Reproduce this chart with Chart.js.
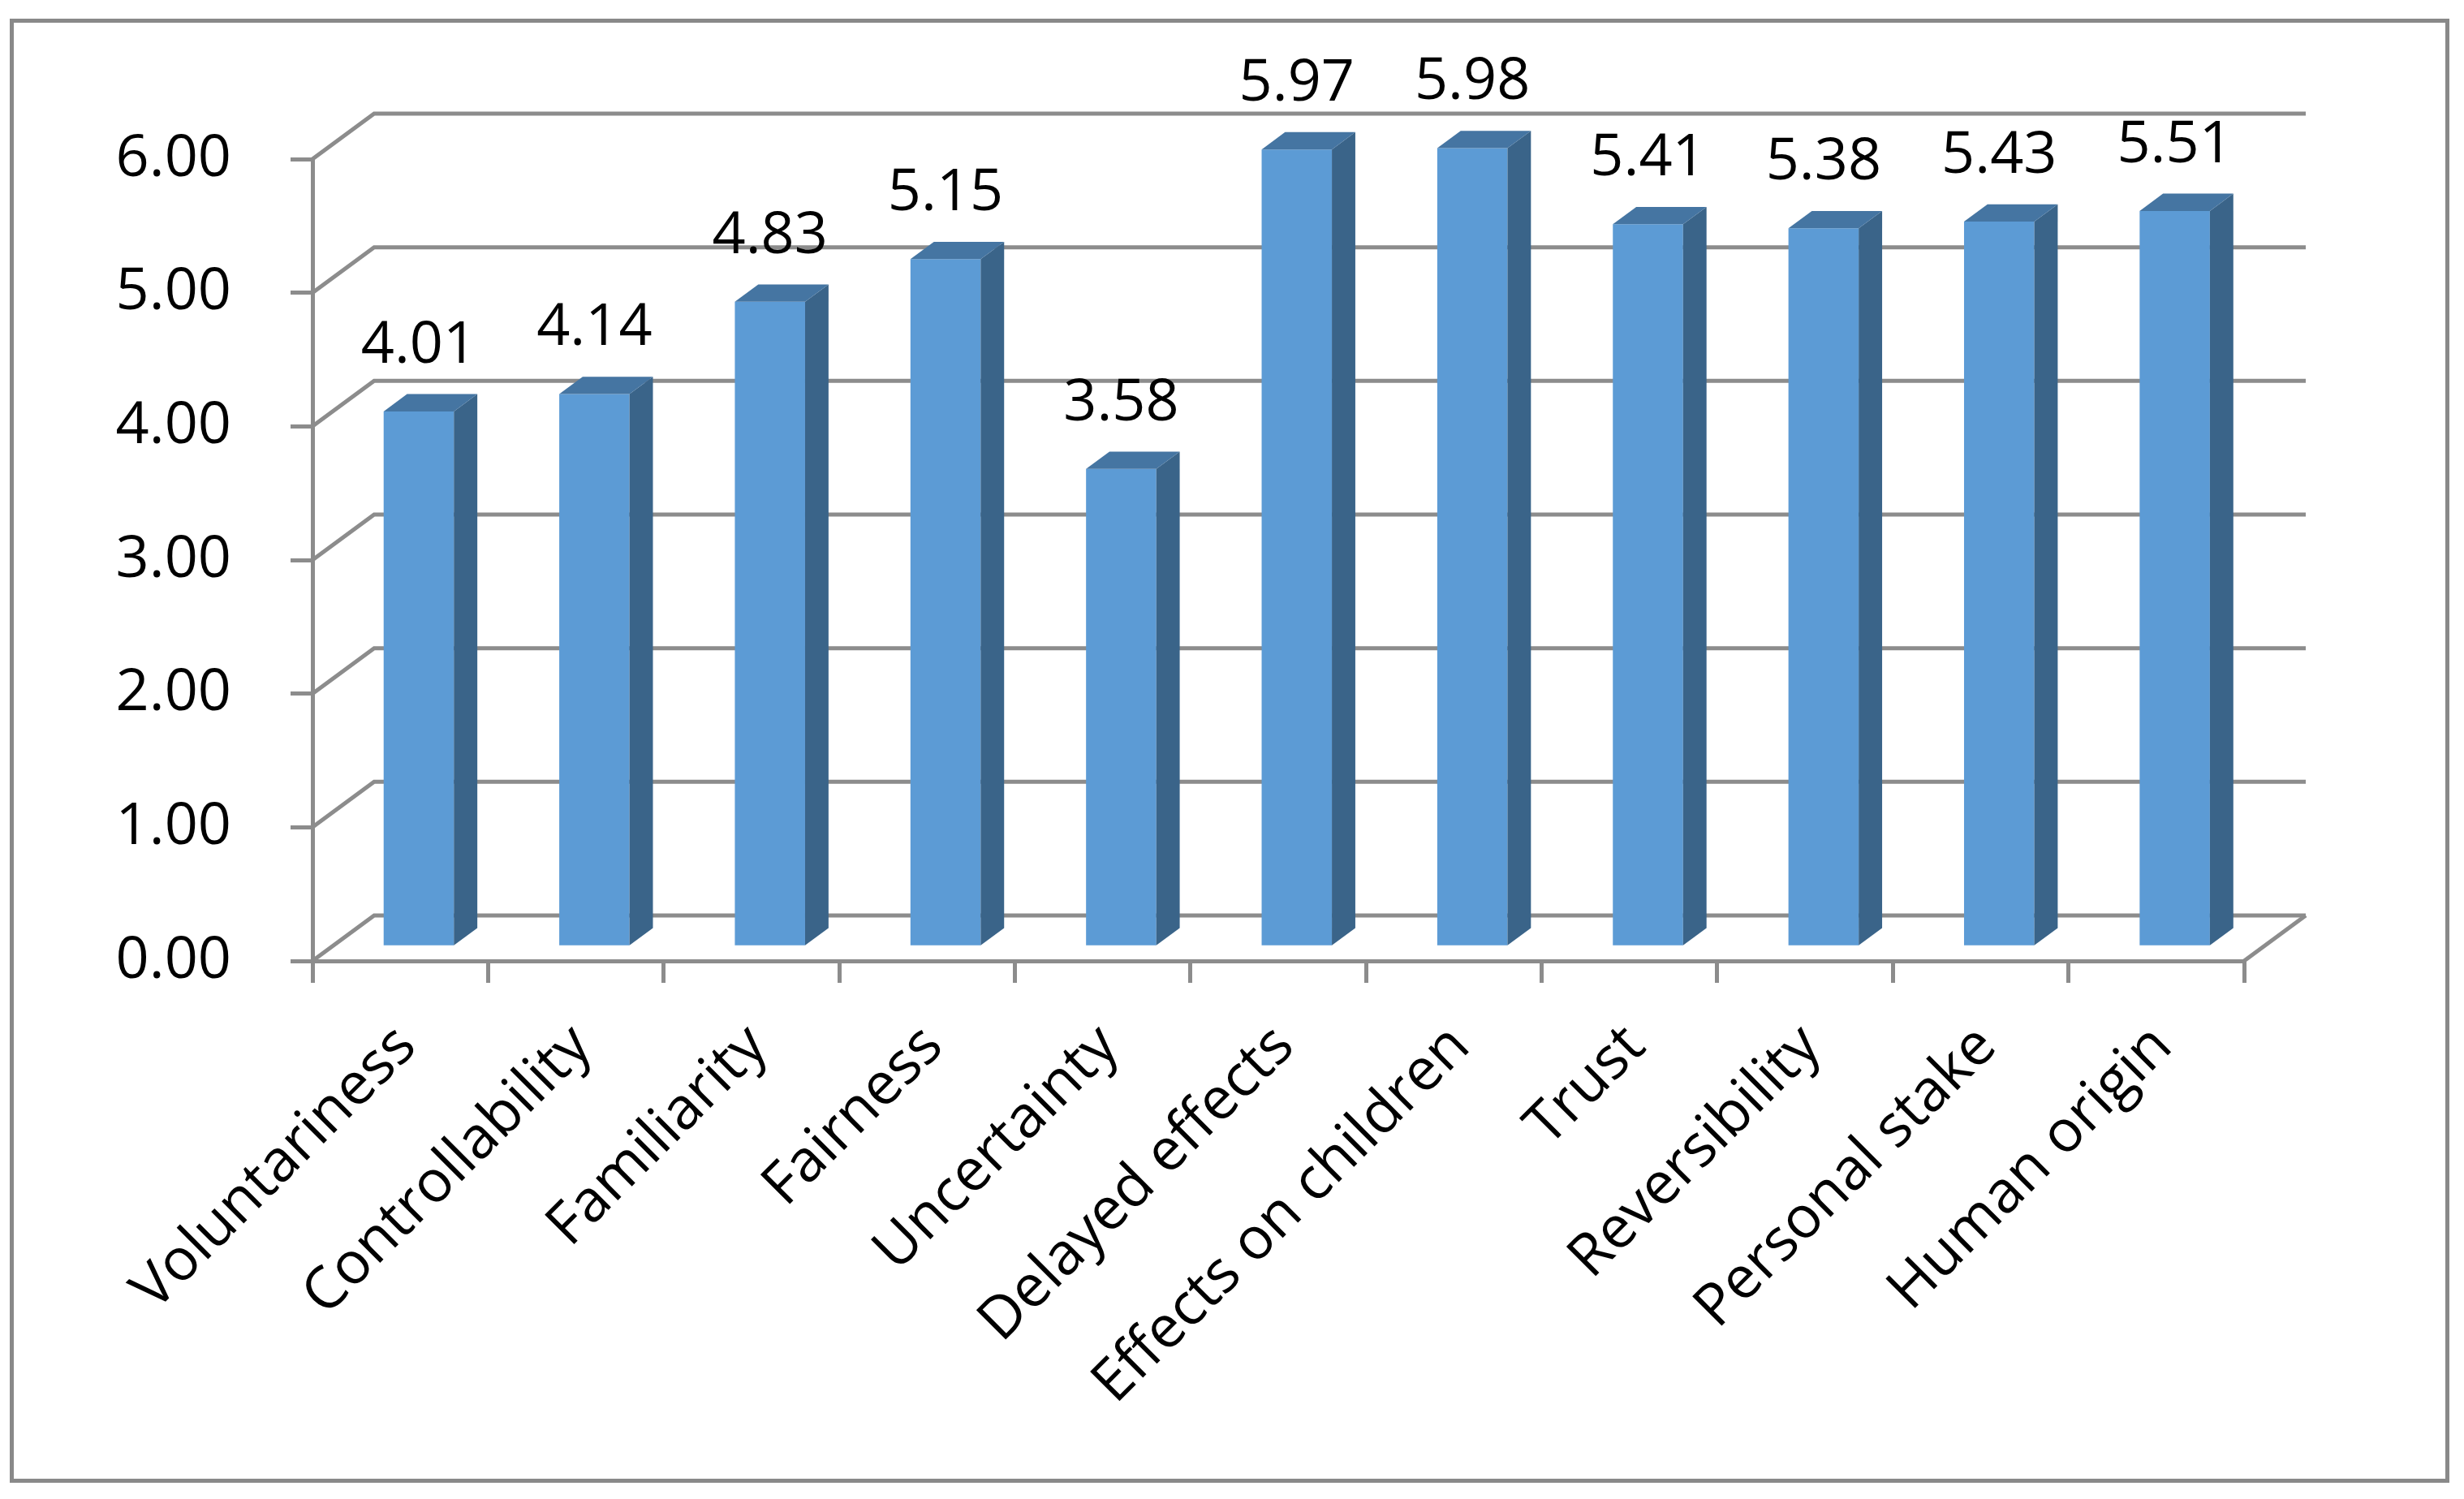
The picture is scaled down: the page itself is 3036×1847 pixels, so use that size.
<!DOCTYPE html>
<html>
<head>
<meta charset="utf-8">
<script src="https://cdn.jsdelivr.net/npm/chart.js@4.4.1/dist/chart.umd.min.js"></script>
<style>
  html, body { margin: 0; padding: 0; background: #fff; }
  #wrap { width: 3036px; height: 1847px; }
</style>
</head>
<body>
<div id="wrap"><canvas id="chart" width="3036" height="1847"></canvas></div>
<script>
const categories = ['Voluntariness', 'Controllability', 'Familiarity', 'Fairness', 'Uncertainty',
    'Delayed effects', 'Effects on children', 'Trust', 'Reversibility', 'Personal stake', 'Human origin'];
const meanScores = [4.01, 4.14, 4.83, 5.15, 3.58, 5.97, 5.98, 5.41, 5.38, 5.43, 5.51];
const yTicks = [0, 1, 2, 3, 4, 5, 6];

const gray = '#8c8c8c';
const fontFamily = "'Open Sans', sans-serif";
const wall = { x: 76, y: -56 };      // offset of the back wall
const barFront = 0.3;                // where the bar's front face sits in the depth
const barDepth = 0.38;               // how deep the bar is

const frame = {
    id: 'frame',
    beforeDraw(chart) {
        const ctx = chart.ctx;
        ctx.save();
        ctx.fillStyle = '#fff';
        ctx.fillRect(0, 0, chart.width, chart.height);
        ctx.strokeStyle = '#898989';
        ctx.lineWidth = 5;
        ctx.strokeRect(14.5, 25.5, 3001, 1799);
        ctx.restore();
    }
};

const box3d = {
    id: 'box3d',
    beforeDatasetsDraw(chart) {
        const ctx = chart.ctx;
        const y = chart.scales.y;
        const area = chart.chartArea;

        ctx.save();
        ctx.strokeStyle = gray;
        ctx.lineWidth = 5;
        ctx.lineJoin = 'miter';
        yTicks.forEach(v => {
            const py = y.getPixelForValue(v);
            ctx.beginPath();
            ctx.moveTo(area.left, py);
            ctx.lineTo(area.left + wall.x, py + wall.y);
            ctx.lineTo(area.right + wall.x, py + wall.y);
            ctx.stroke();
        });
        // right edge of the floor
        ctx.beginPath();
        ctx.moveTo(area.right, area.bottom);
        ctx.lineTo(area.right + wall.x, area.bottom + wall.y);
        ctx.stroke();
        ctx.restore();

        // push the bars back a little into the box
        ctx.save();
        ctx.translate(wall.x * barFront, wall.y * barFront);
    },
    afterDatasetsDraw(chart) {
        const ctx = chart.ctx;
        const dx = wall.x * barDepth;
        const dy = wall.y * barDepth;
        const meta = chart.getDatasetMeta(0);

        meta.data.forEach((bar, i) => {
            const p = bar.getProps(['x', 'y', 'base', 'width'], true);
            const w = p.width / 2;

            ctx.fillStyle = '#3a6489';
            ctx.beginPath();
            ctx.moveTo(p.x + w, p.y);
            ctx.lineTo(p.x + w + dx, p.y + dy);
            ctx.lineTo(p.x + w + dx, p.base + dy);
            ctx.lineTo(p.x + w, p.base);
            ctx.closePath();
            ctx.fill();

            ctx.fillStyle = '#4575a2';
            ctx.beginPath();
            ctx.moveTo(p.x - w, p.y);
            ctx.lineTo(p.x - w + dx, p.y + dy);
            ctx.lineTo(p.x + w + dx, p.y + dy);
            ctx.lineTo(p.x + w, p.y);
            ctx.closePath();
            ctx.fill();

            ctx.fillStyle = '#000';
            ctx.font = '72px ' + fontFamily;
            ctx.textAlign = 'center';
            ctx.textBaseline = 'alphabetic';
            ctx.fillText(meanScores[i].toFixed(2), p.x, p.y - 60);
        });
        ctx.restore();
    }
};

new Chart(document.getElementById('chart'), {
    type: 'bar',
    data: {
        labels: categories,
        datasets: [{
            data: meanScores,
            backgroundColor: '#5c9bd5',
            borderWidth: 0,
            barPercentage: 0.4,
            categoryPercentage: 1,
            clip: false
        }]
    },
    options: {
        responsive: false,
        devicePixelRatio: 1,
        animation: false,
        layout: { padding: { top: 196, right: 271, left: 0, bottom: 0 } },
        plugins: {
            legend: { display: false },
            tooltip: { enabled: false }
        },
        scales: {
            x: {
                offset: true,
                grid: { offset: true, drawOnChartArea: false, tickLength: 27, color: gray, lineWidth: 5 },
                border: { display: true, color: gray, width: 5 },
                ticks: {
                    autoSkip: false,
                    minRotation: 45,
                    maxRotation: 45,
                    padding: 36,
                    labelOffset: 8,
                    color: '#000',
                    font: { family: fontFamily, size: 72 }
                },
                afterFit(scale) { scale.height = 663; }
            },
            y: {
                min: 0,
                max: 6,
                afterBuildTicks(scale) { scale.ticks = yTicks.map(v => ({ value: v })); },
                grid: { drawOnChartArea: false, tickLength: 27, color: gray, lineWidth: 5 },
                border: { display: true, color: gray, width: 5 },
                ticks: {
                    padding: 73,
                    color: '#000',
                    font: { family: fontFamily, size: 72 },
                    callback: v => Number(v).toFixed(2)
                },
                afterFit(scale) { scale.width = 385; }
            }
        }
    },
    plugins: [frame, box3d]
});
</script>
</body>
</html>
